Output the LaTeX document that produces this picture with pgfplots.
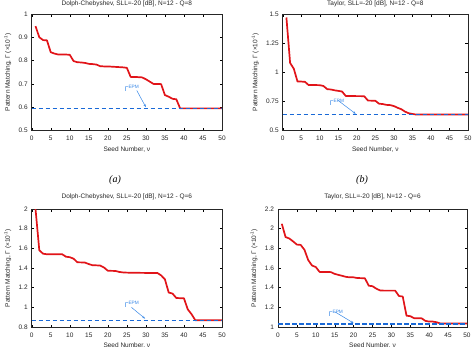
\documentclass[border=0pt]{standalone}
\usepackage{pgfplots}
\pgfplotsset{compat=1.18}
\usepackage{fontspec}
\setmainfont{Liberation Sans}
\newfontfamily\capfont{Liberation Serif}
\usetikzlibrary{arrows.meta}
\definecolor{cred}{RGB}{225,20,25}
\definecolor{cblue}{RGB}{25,105,215}
\definecolor{ablue}{RGB}{55,135,230}
\tikzset{
  redline/.style={cred, line width=1.7pt, line join=round},
  epmline/.style={cblue, line width=1.2pt, dash pattern=on 4.5pt off 2.5pt},
  arr/.style={ablue, line width=0.5pt, -{Stealth[length=3pt,width=2.2pt]}},
  ann/.style={ablue, font=\fontsize{6.8}{8}\selectfont, anchor=base west, inner sep=0pt},
}
\pgfplotsset{
  myax/.style={
    scale only axis,
    xmin=0, xmax=50, xtick={0,5,...,50},
    /pgf/number format/assume math mode=true,
    tick align=inside,
    major tick length=2.5pt,
    every tick/.style={black, line width=0.4pt},
    axis line style={line width=0.5pt, black!85},
    ticklabel style={font=\fontsize{6.5}{7.5}\selectfont, black!85},
    label style={font=\fontsize{6.5}{7.5}\selectfont, black!85},
    title style={font=\fontsize{6.5}{7.5}\selectfont, black!85, at={(0.5,1)}, anchor=south},
    xticklabel style={yshift=-2pt},
    yticklabel style={/pgf/number format/fixed, xshift=-0.5pt},
    xlabel={Seed Number, ν},
    ylabel={Pattern Matching, Γ (×10\textsuperscript{-1})},
    xlabel style={yshift=1pt},
    ylabel style={yshift=0.5pt},
  },
}
\begin{document}
\begin{tikzpicture}
\path[use as bounding box] (0,0) rectangle (474pt,346pt);
% (a)
\begin{axis}[myax, at={(31.7pt,215.5pt)}, anchor=south west, width=190.3pt, height=116.5pt,
  ymin=0.5, ymax=1, ytick={0.5,0.6,...,1.01},
  title={Dolph-Chebyshev, SLL=-20 [dB], N=12 - Q=8}, title style={yshift=-2.5pt}]
\addplot[redline] coordinates {(1,0.948)(2,0.900)(3,0.888)(4,0.887)(5,0.836)(6,0.830)(7,0.826)(8,0.826)(9,0.826)(10,0.825)(11,0.798)(12,0.793)(13,0.792)(14,0.790)(15,0.786)(16,0.785)(17,0.783)(18,0.776)(19,0.775)(20,0.775)(21,0.774)(22,0.773)(23,0.772)(24,0.771)(25,0.769)(26,0.730)(27,0.730)(28,0.729)(29,0.728)(30,0.720)(31,0.710)(32,0.700)(33,0.700)(34,0.699)(35,0.652)(36,0.645)(37,0.636)(38,0.634)(39,0.595)(40,0.595)(45,0.595)(50,0.595)};
\addplot[epmline] coordinates {(0,0.594)(50,0.594)};
\node[ann] at (axis cs:24.4,0.668) {Γ\textsuperscript{EPM}};
\draw[arr] (axis cs:27.6,0.672) -- (axis cs:30,0.600);
\end{axis}
% (b)
\begin{axis}[myax, at={(282.7pt,215.5pt)}, anchor=south west, width=185.3pt, height=116.5pt,
  ymin=0.5, ymax=1.5, ytick={0.5,0.75,1,1.25,1.5},
  title={Taylor, SLL=-20 [dB], N=12 - Q=8}, title style={yshift=-2.5pt}]
\addplot[redline] coordinates {(1,1.47)(2,1.08)(3,1.03)(4,0.92)(5,0.92)(6,0.918)(7,0.89)(8,0.89)(9,0.89)(10,0.889)(11,0.882)(12,0.855)(13,0.852)(14,0.845)(15,0.840)(16,0.835)(17,0.797)(18,0.796)(19,0.796)(20,0.795)(21,0.795)(22,0.794)(23,0.757)(24,0.756)(25,0.755)(26,0.730)(27,0.727)(28,0.720)(29,0.718)(30,0.710)(31,0.695)(32,0.683)(33,0.662)(34,0.648)(35,0.642)(36,0.637)(40,0.637)(45,0.637)(50,0.637)};
\addplot[epmline] coordinates {(0,0.636)(50,0.636)};
\node[ann] at (axis cs:12.7,0.716) {Γ\textsuperscript{EPM}};
\draw[arr] (axis cs:14.9,0.759) -- (axis cs:19.7,0.643);
\end{axis}
% (c)
\begin{axis}[myax, at={(31.7pt,19pt)}, anchor=south west, width=190.3pt, height=118pt,
  ymin=0.8, ymax=2, ytick={0.8,1,...,2.01},
  title={Dolph-Chebyshev, SLL=-20 [dB], N=12 - Q=6}, title style={yshift=0pt}]
\addplot[redline] coordinates {(1,2.0)(2,1.58)(3,1.545)(4,1.54)(5,1.54)(6,1.54)(7,1.54)(8,1.54)(9,1.515)(10,1.51)(11,1.495)(12,1.458)(13,1.457)(14,1.455)(15,1.44)(16,1.428)(17,1.427)(18,1.425)(19,1.405)(20,1.372)(21,1.371)(22,1.37)(23,1.36)(24,1.355)(25,1.353)(26,1.352)(28,1.351)(30,1.35)(33,1.35)(34,1.325)(35,1.285)(36,1.15)(37,1.14)(38,1.095)(39,1.093)(40,1.092)(41,0.98)(42,0.93)(43,0.868)(45,0.868)(50,0.868)};
\addplot[epmline] coordinates {(0,0.868)(50,0.868)};
\node[ann] at (axis cs:24.4,0.995) {Γ\textsuperscript{EPM}};
\draw[arr] (axis cs:26.2,1.0) -- (axis cs:29.8,0.885);
\end{axis}
% (d)
\begin{axis}[myax, at={(278pt,19pt)}, anchor=south west, width=189pt, height=118pt,
  ymin=1, ymax=2.2, ytick={1,1.2,...,2.21},
  title={Taylor, SLL=-20 [dB], N=12 - Q=6}, title style={yshift=0pt}]
\addplot[redline] coordinates {(1,2.05)(2,1.915)(3,1.90)(4,1.87)(5,1.838)(6,1.835)(7,1.785)(8,1.68)(9,1.625)(10,1.61)(11,1.56)(12,1.56)(13,1.56)(14,1.558)(15,1.54)(16,1.53)(17,1.52)(18,1.51)(19,1.505)(20,1.505)(21,1.498)(22,1.497)(23,1.495)(24,1.42)(25,1.415)(26,1.39)(27,1.372)(28,1.37)(31,1.37)(32,1.315)(33,1.31)(34,1.115)(35,1.11)(36,1.09)(37,1.09)(38,1.088)(39,1.062)(40,1.055)(41,1.055)(42,1.048)(43,1.035)(45,1.035)(50,1.035)};
\addplot[epmline] coordinates {(0,1.03)(50,1.03)};
\node[ann] at (axis cs:13.4,1.105) {Γ\textsuperscript{EPM}};
\draw[arr] (axis cs:15.1,1.153) -- (axis cs:20,1.04);
\end{axis}
\node[font=\capfont\itshape\fontsize{10}{12}\selectfont] at (115pt,166pt) {(\textit{a})};
\node[font=\capfont\itshape\fontsize{10}{12}\selectfont] at (362pt,166pt) {(\textit{b})};
\end{tikzpicture}
\end{document}
